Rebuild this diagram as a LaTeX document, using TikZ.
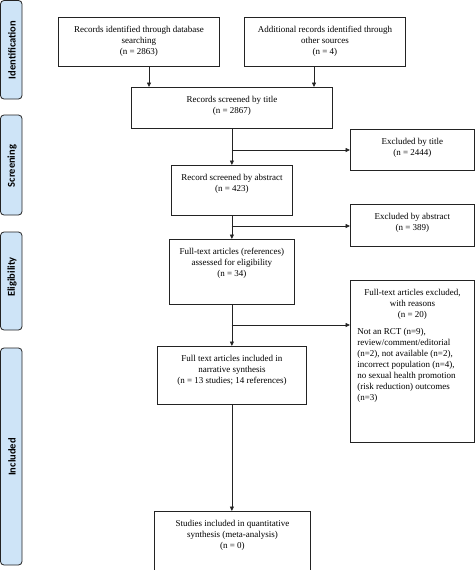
\documentclass[tikz,border=0pt]{standalone}
\usepackage{fontspec}
\setmainfont{Liberation Serif}
\newfontfamily\barfont{Carlito}
\usetikzlibrary{arrows.meta}
\definecolor{barblue}{RGB}{206,228,247}
\definecolor{edge}{RGB}{35,35,35}
\newcommand{\bxt}[3]{\parbox[c][#2pt][t]{#1pt}{\vspace*{9pt}\centering #3\par}}
\tikzset{
  x=1pt, y=-1pt,
  box/.style={draw=edge, line width=0.8pt, inner sep=0pt, anchor=north west,
    font=\fontsize{9}{11}\selectfont},
  arr/.style={draw=edge, line width=0.8pt, -{Triangle[length=4.5pt,width=4pt]}},
  line/.style={draw=edge, line width=0.8pt},
  bar/.style={draw=edge, line width=0.8pt, fill=barblue, rounded corners=3.5pt},
  bartext/.style={rotate=90, font=\barfont\bfseries\fontsize{10.5}{12}\selectfont, text=black}
}
\begin{document}
\begin{tikzpicture}
\useasboundingbox (0,0) rectangle (474,570);
% side bars
\draw[bar] (0.5,0.5) rectangle (22,99);
\draw[bar] (0.5,115) rectangle (22,215);
\draw[bar] (0.5,232) rectangle (22,330);
\draw[bar] (0.5,348) rectangle (22,565);
\node[bartext] (lid) at (12,50) {Identification};
\node[bartext] (lsc) at (12,166) {Screening};
\node[bartext] (lel) at (12,277) {Eligibility};
\node[bartext] (lin) at (12,457) {Included};
% boxes
\node[box] (A) at (58,17) {\bxt{161}{49}{Records identified through database\\ searching\\ (n = 2863)}};
\node[box] (B) at (244,17) {\bxt{161}{49}{Additional records identified through\\ other sources\\ (n = 4)}};
\node[box] (C) at (131,87) {\bxt{201}{41}{Records screened by title\\ (n = 2867)}};
\node[box] (T) at (350,129) {\bxt{124}{41}{Excluded by title\\ (n = 2444)}};
\node[box] (D) at (171,165) {\bxt{121}{50}{Record screened by abstract\\ (n = 423)}};
\node[box] (AB) at (350,204) {\bxt{124}{42}{Excluded by abstract\\ (n = 389)}};
\node[box] (E) at (169,239) {\bxt{125}{65}{Full-text articles (references)\\ assessed for eligibility\\ (n = 34)}};
\node[box] (X) at (350,280) {\parbox[c][162pt][t]{124pt}{\vspace*{9pt}\centering Full-text articles excluded,\\ with reasons\\ (n = 20)\par\vspace{6pt}\raggedright\leftskip=7pt Not an RCT (n=9),\\ review/comment/editorial\\ (n=2), not available (n=2),\\ incorrect population (n=4),\\ no sexual health promotion\\ (risk reduction) outcomes\\ (n=3)\par}};
\node[box] (F) at (157,346) {\bxt{149}{58}{Full text articles included in\\ narrative synthesis\\ (n = 13 studies; 14 references)}};
\node[box] (G) at (154,511) {\bxt{156}{66}{Studies included in quantitative\\ synthesis (meta-analysis)\\ (n = 0)}};
% connectors
\coordinate (xa) at (149,0);
\coordinate (xb) at (314,0);
\draw[arr] (A.south -| xa) -- (C.north -| xa);
\draw[arr] (B.south -| xb) -- (C.north -| xb);
\draw[arr] (C.south) -- (D.north);
\coordinate (b1) at (231.5,150);
\draw[arr] (b1) -- (b1 -| T.west);
\draw[arr] (D.south) -- (E.north);
\coordinate (b2) at (231.5,226);
\draw[arr] (b2) -- (b2 -| AB.west);
\draw[arr] (E.south) -- (F.north);
\coordinate (b3) at (231.5,325);
\draw[arr] (b3) -- (b3 -| X.west);
\draw[arr] (F.south) -- (F.south |- G.north);
\end{tikzpicture}
\end{document}
